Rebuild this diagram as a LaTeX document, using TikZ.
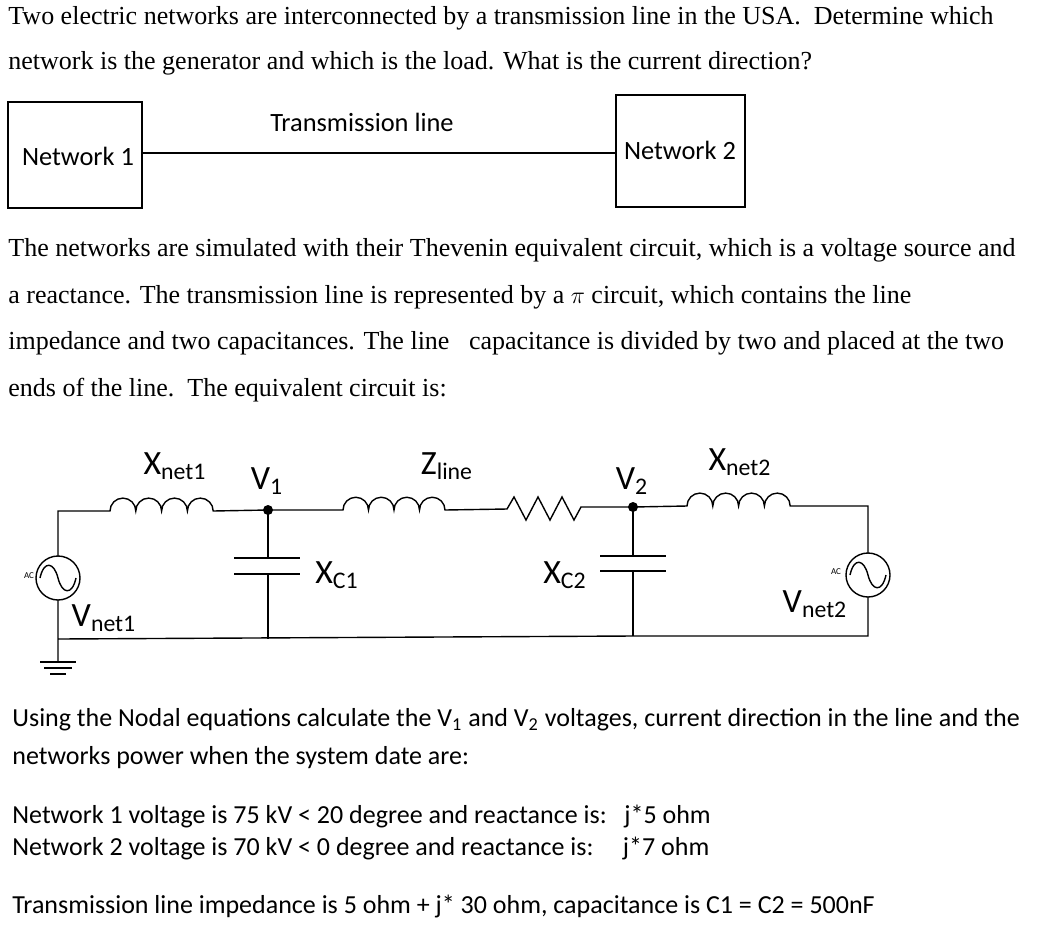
\documentclass[tikz,border=0pt]{standalone}
\usepackage{fontspec}
\setmainfont{Liberation Serif}
\newfontfamily\calfont{Carlito}
\begin{document}
\begin{tikzpicture}[x=0.5pt,y=-0.5pt,
  serif/.style={anchor=west,inner sep=0,font=\fontsize{13}{15}\selectfont},
  sans/.style={anchor=west,inner sep=0,font=\calfont\fontsize{13}{15}\selectfont},
  lbl/.style={inner sep=0,font=\calfont\fontsize{13.2}{15}\selectfont},
  clbl/.style={inner sep=0,font=\calfont\fontsize{17}{19}\selectfont},
  wire/.style={line width=0.7pt},
  dot/.style={circle,fill=black,inner sep=0,minimum size=5pt}]
\useasboundingbox (0,0) rectangle (1040,928);
% texts top
\node[serif] (t1) at (8,18) {Two electric networks are interconnected by a transmission line in the USA.\ \ Determine which};
\node[serif] (t2) at (8,63) {network is the generator and which is the load. What is the current direction?};
\node[draw,wire,minimum width=67pt,minimum height=53pt] (n1) at (75,155) {};
\node[lbl] at (78,156) {Network 1};
\node[draw,wire,minimum width=64.5pt,minimum height=56pt] (n2) at (680.5,151) {};
\node[lbl] at (680,150) {Network 2};
\draw[wire] (n1.east |- 0,153) -- (n2.west |- 0,153);
\node[lbl] (tl) at (362,122) {Transmission line};
\node[serif] (p1) at (8,250) {The networks are simulated with their Thevenin equivalent circuit, which is a voltage source and};
\node[serif] (p2) at (8,297) {a reactance. The transmission line is represented by a $\pi$ circuit, which contains the line};
\node[serif] (p3) at (8,343) {impedance and two capacitances. The line\ \ \ capacitance is divided by two and placed at the two};
\node[serif] (p4) at (8,390) {ends of the line.\ \ The equivalent circuit is:};
% circuit
\coordinate (v1) at (268,510);
\coordinate (v2) at (633,507);
\draw[wire] (58,556) -- (58,511) -- (110,511)
  arc[start angle=180,end angle=360,radius=12.9] arc[start angle=180,end angle=360,radius=12.9]
  arc[start angle=180,end angle=360,radius=12.9] arc[start angle=180,end angle=360,radius=12.9]
  -- (v1) -- (343,510)
  arc[start angle=180,end angle=360,radius=12.75] arc[start angle=180,end angle=360,radius=12.75]
  arc[start angle=180,end angle=360,radius=12.75] arc[start angle=180,end angle=360,radius=12.75]
  -- (507,509) -- (514,497) -- (526,520) -- (538,497) -- (550,520) -- (562,497) -- (574,520) -- (581,507)
  -- (v2) -- (687,506)
  arc[start angle=180,end angle=360,radius=12.9] arc[start angle=180,end angle=360,radius=12.9]
  arc[start angle=180,end angle=360,radius=12.9] arc[start angle=180,end angle=360,radius=12.9]
  -- (868,506) -- (868,553);
\node[dot] at (v1) {}; \node[dot] at (v2) {};
% capacitors
\draw[wire] (v1) -- (268,558); \draw[wire] (234,558) -- (300,558); \draw[wire] (234,574) -- (300,574); \draw[wire] (268,574) -- (268,639);
\draw[wire] (v2) -- (633,556); \draw[wire] (600,556) -- (666,556); \draw[wire] (600,571) -- (666,571); \draw[wire] (633,571) -- (633,636);
% sources
\draw[wire] (58,578) circle[radius=22];
\draw[wire] (40,578) .. controls (44,560) and (54,562) .. (58,578) .. controls (62,594) and (72,596) .. (76,578);
\draw[wire] (868,575) circle[radius=22];
\draw[wire] (850,575) .. controls (854,557) and (864,559) .. (868,575) .. controls (872,591) and (882,593) .. (886,575);
\node[inner sep=0,font=\calfont\fontsize{4.5}{5}\selectfont] at (29,576) {AC};
\node[inner sep=0,font=\calfont\fontsize{4.5}{5}\selectfont] at (836,572) {AC};
\draw[wire] (58,600) -- (58,662) (868,597) -- (868,636) -- (633,636) -- (58,639);
\draw[wire] (40,662) -- (76,662) (44,668) -- (72,668) (50,674) -- (66,674);
% circuit labels
\node[clbl] at (175,466) {X\textsubscript{net1}};
\node[clbl] at (267,481) {V\textsubscript{1}};
\node[clbl] at (447,466) {Z\textsubscript{line}};
\node[clbl] at (632,481) {V\textsubscript{2}};
\node[clbl] at (740,462) {X\textsubscript{net2}};
\node[clbl] at (337,575) {X\textsubscript{C1}};
\node[clbl] at (565,575) {X\textsubscript{C2}};
\node[clbl] at (104,618) {V\textsubscript{net1}};
\node[clbl] at (815,604) {V\textsubscript{net2}};
% bottom texts
\node[sans] (b1) at (12,720) {Using the Nodal equations calculate the V\textsubscript{1} and V\textsubscript{2} voltages, current direction in the line and the};
\node[sans] (b2) at (12,758) {networks power when the system date are:};
\node[sans] (b3) at (12,816) {Network 1 voltage is 75 kV < 20 degree and reactance is:\ \ \ j*5 ohm};
\node[sans] (b4) at (12,848) {Network 2 voltage is 70 kV < 0 degree and reactance is:\ \ \ \ \ j*7 ohm};
\node[sans] (b5) at (12,906) {Transmission line impedance is 5 ohm + j* 30 ohm, capacitance is C1 = C2 = 500nF};
\end{tikzpicture}
\end{document}
